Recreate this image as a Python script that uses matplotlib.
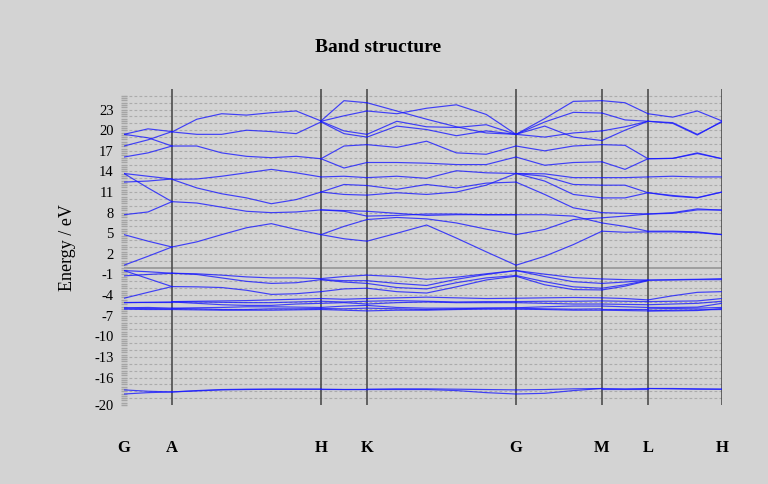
import numpy as np
import matplotlib.pyplot as plt

plt.rcParams['font.family'] = ['Liberation Serif', 'DejaVu Serif']

# high-symmetry points along the path (distances)
labels = ['G', 'A', 'H', 'K', 'G', 'M', 'L', 'H']
kdist = [0, 48, 197, 243, 392, 478, 524, 598]

ytick_vals = [-20, -16, -13, -10, -7, -4, -1, 2, 5, 8, 11, 14, 17, 20, 23]

# energies (eV) of each band, sampled evenly inside each segment
GA = [
    [0.35, 1.65, 3.0], [4.8, 3.85, 3.0], [7.7, 8.1, 9.6], [13.7, 11.6, 9.6],
    [12.45, 12.6, 12.9], [13.7, 13.3, 12.9], [16.1, 16.7, 17.7],
    [17.7, 18.6, 19.8], [19.4, 18.9, 17.7], [19.4, 20.2, 19.8],
    [-0.43, -0.6, -0.82], [-0.43, -1.6, -2.76], [-1.2, -1.0, -0.82],
    [-4.46, -3.6, -2.76], [-4.95, -4.95, -4.95], [-5.1, -5.05, -5.0],
    [-5.85, -5.8, -5.9], [-5.9, -5.95, -6.0], [-6.05, -6.1, -6.1],
    [-17.8, -18.0, -18.1], [-18.4, -18.2, -18.1],
]
AH = [
    [3.0, 3.75, 4.8, 5.8, 6.4, 5.55, 4.8],
    [9.6, 9.4, 8.8, 8.2, 8.0, 8.1, 8.4],
    [12.85, 11.6, 10.75, 10.15, 9.3, 9.9, 11.0],
    [12.85, 12.9, 13.3, 13.8, 14.3, 13.8, 13.2],
    [17.7, 17.7, 16.7, 16.2, 16.0, 16.2, 15.85],
    [19.75, 19.4, 19.4, 20.0, 19.8, 19.5, 21.2],
    [19.75, 21.6, 22.4, 22.2, 22.55, 22.8, 21.35],
    [-0.82, -0.9, -1.1, -1.35, -1.5, -1.5, -1.6],
    [-0.82, -1.0, -1.5, -2.0, -2.3, -2.2, -1.75],
    [-2.76, -2.8, -2.9, -3.3, -3.9, -3.8, -3.5],
    [-4.95, -4.9, -4.85, -4.8, -4.7, -4.6, -4.5],
    [-5.0, -5.0, -5.05, -5.1, -5.1, -5.0, -4.9],
    [-5.0, -5.2, -5.4, -5.5, -5.5, -5.3, -5.2],
    [-5.9, -5.85, -5.8, -5.7, -5.7, -5.75, -5.8],
    [-5.95, -6.0, -6.1, -6.1, -6.0, -6.0, -5.95],
    [-6.1, -6.15, -6.2, -6.2, -6.2, -6.15, -6.1],
    [-18.1, -17.9, -17.75, -17.7, -17.7, -17.7, -17.7],
    [-18.1, -17.95, -17.8, -17.75, -17.7, -17.7, -17.7],
]
HK = [
    [4.8, 4.2, 3.85], [4.8, 6.0, 7.0], [8.4, 8.2, 7.5], [8.4, 8.3, 8.2],
    [11.0, 10.65, 10.55], [11.0, 12.1, 11.95], [13.2, 13.3, 13.1],
    [15.85, 14.5, 15.3], [15.85, 17.7, 17.9], [21.3, 19.9, 19.4],
    [21.2, 19.5, 19.0], [21.3, 22.1, 22.8], [21.35, 24.3, 24.0],
    [-1.6, -1.3, -1.1], [-1.75, -1.9, -1.9], [-1.75, -2.1, -2.3],
    [-3.5, -3.1, -3.0], [-4.5, -4.6, -4.5], [-4.9, -5.0, -4.9],
    [-5.2, -5.1, -5.3], [-5.8, -5.6, -5.5], [-5.95, -6.0, -5.9],
    [-6.1, -6.2, -6.3],
    [-17.7, -17.7, -17.7], [-17.7, -17.75, -17.75],
]
KG = [
    [3.85, 5.0, 6.2, 4.3, 2.3, 0.35],
    [7.0, 7.3, 7.1, 6.5, 5.6, 4.8],
    [7.5, 7.6, 7.8, 7.8, 7.7, 7.7],
    [8.2, 7.9, 7.6, 7.7, 7.7, 7.7],
    [10.55, 10.9, 10.65, 11.0, 12.0, 13.7],
    [11.95, 11.4, 12.1, 11.6, 12.3, 12.45],
    [13.1, 13.3, 13.0, 14.1, 13.8, 13.7],
    [15.3, 15.3, 15.2, 15.0, 15.0, 16.1],
    [17.9, 17.5, 18.4, 16.7, 16.5, 17.7],
    [19.0, 20.6, 20.1, 19.2, 19.9, 19.4],
    [19.4, 21.3, 20.5, 20.4, 20.8, 19.4],
    [22.8, 22.4, 23.2, 23.7, 22.3, 19.4],
    [24.0, 22.8, 21.6, 20.5, 19.6, 19.4],
    [-1.1, -1.3, -1.7, -1.4, -0.9, -0.43],
    [-1.9, -2.3, -2.6, -1.7, -1.0, -0.43],
    [-2.3, -2.9, -3.1, -2.2, -1.5, -1.15],
    [-3.0, -3.5, -3.7, -2.8, -1.8, -1.25],
    [-4.5, -4.4, -4.3, -4.4, -4.5, -4.46],
    [-4.9, -4.8, -4.9, -5.0, -4.95, -4.95],
    [-5.3, -5.1, -5.0, -5.1, -5.1, -5.1],
    [-5.5, -5.8, -5.9, -5.9, -5.9, -5.85],
    [-5.9, -6.0, -6.1, -6.0, -5.9, -5.9],
    [-6.3, -6.2, -6.2, -6.1, -6.05, -6.05],
    [-17.7, -17.65, -17.65, -17.7, -17.75, -17.8],
    [-17.75, -17.75, -17.75, -17.9, -18.2, -18.4],
]
GM = [
    [0.35, 1.65, 3.35, 5.3], [4.8, 5.55, 7.0, 7.25], [7.7, 7.7, 7.5, 6.5],
    [12.45, 10.65, 8.7, 8.0], [13.7, 12.6, 10.65, 10.15],
    [13.7, 13.3, 12.1, 12.0], [13.7, 13.65, 13.1, 13.1],
    [16.1, 14.9, 15.3, 15.4], [17.7, 17.0, 17.7, 17.9],
    [19.4, 20.6, 19.0, 18.5], [19.4, 19.0, 19.6, 19.9],
    [19.4, 21.2, 22.6, 22.5], [19.4, 21.7, 24.2, 24.3],
    [-0.43, -0.95, -1.45, -1.65], [-0.43, -1.3, -2.05, -2.3],
    [-1.15, -2.05, -2.8, -3.0], [-1.25, -2.5, -3.2, -3.25],
    [-4.46, -4.4, -4.35, -4.4], [-4.95, -4.9, -4.9, -4.85],
    [-5.1, -5.2, -5.3, -5.3], [-5.85, -5.7, -5.6, -5.6],
    [-5.9, -6.0, -6.05, -6.0], [-6.05, -6.1, -6.2, -6.2],
    [-17.8, -17.75, -17.65, -17.6], [-18.4, -18.3, -17.9, -17.6],
]
ML = [
    [5.3, 5.15, 5.2], [7.25, 7.5, 7.8], [6.5, 6.0, 5.3], [8.0, 7.9, 7.8],
    [10.15, 10.15, 10.9], [12.0, 12.0, 10.9], [13.1, 13.1, 13.2],
    [15.4, 14.3, 15.85], [17.9, 17.8, 15.85], [18.5, 20.0, 21.3],
    [19.9, 20.5, 21.3], [22.5, 21.5, 21.3], [24.3, 24.0, 22.4],
    [-1.65, -1.75, -1.8], [-2.3, -2.1, -1.85], [-3.0, -2.5, -1.85],
    [-3.25, -2.7, -1.9], [-4.4, -4.5, -4.7], [-4.85, -4.9, -4.95],
    [-5.3, -5.35, -5.4], [-5.6, -5.7, -5.8], [-6.0, -6.0, -6.0],
    [-6.2, -6.25, -6.3],
    [-17.6, -17.6, -17.6], [-17.6, -17.65, -17.6],
]
LH = [
    [5.2, 5.2, 5.1, 4.8], [5.3, 5.3, 5.2, 4.8], [7.8, 8.0, 8.55, 8.35],
    [7.8, 7.9, 8.4, 8.4], [10.9, 10.4, 10.15, 11.0], [10.9, 10.5, 10.2, 11.0],
    [13.2, 13.3, 13.2, 13.2], [15.85, 15.9, 16.7, 15.85],
    [15.85, 15.9, 16.6, 15.85], [21.3, 21.0, 19.3, 21.3],
    [21.3, 21.1, 19.4, 21.2], [22.4, 21.9, 22.8, 21.35],
    [-1.8, -1.75, -1.7, -1.6], [-1.85, -1.8, -1.75, -1.75],
    [-4.7, -4.1, -3.6, -3.5], [-4.95, -4.9, -4.85, -4.5],
    [-5.4, -5.3, -5.2, -4.9], [-5.8, -5.8, -5.75, -5.2],
    [-6.0, -5.95, -5.9, -5.8], [-6.3, -6.3, -6.25, -5.95],
    [-6.3, -6.2, -6.15, -6.1],
    [-17.6, -17.6, -17.65, -17.7], [-17.6, -17.65, -17.7, -17.7],
]
segments = [GA, AH, HK, KG, GM, ML, LH]

bg = '#d3d3d3'
fig = plt.figure(figsize=(7.68, 4.84), dpi=100, facecolor=bg)
ax = fig.add_axes([124 / 768, 79 / 484, 598 / 768, 316 / 484])
ax.set_facecolor(bg)

# dashed grid every 1 eV, solid line at the Fermi level
for e in range(-19, 26):
    if e == 0:
        ax.axhline(e, color='#9a9a9a', lw=1.3, zorder=1)
    else:
        ax.axhline(e, color='#ababab', lw=0.8, ls=(0, (2.5, 2)), zorder=1)

for k in kdist[1:]:
    ax.axvline(k, color='#4d4d4d', lw=1.2, zorder=2)

for i, seg in enumerate(segments):
    for band in seg:
        xs = np.linspace(kdist[i], kdist[i + 1], len(band))
        ax.plot(xs, band, color='#1a1aff', lw=0.85, alpha=0.8, zorder=3)

ax.set_xlim(kdist[0], kdist[-1])
ax.set_ylim(-20, 26)
for s in ax.spines.values():
    s.set_visible(False)

ax.set_xticks([])
ax.set_yticks(ytick_vals)
ax.set_yticklabels([str(v) for v in ytick_vals], fontsize=10.5)
ax.set_yticks(np.arange(-20, 25.01, 1 / 3), minor=True)
ax.tick_params(axis='y', which='both', direction='inout', length=5,
               color='#a5a5a5', width=1, pad=5)

for k, lab in zip(kdist, labels):
    ax.text(k, -0.136, lab, transform=ax.get_xaxis_transform(), ha='center',
            va='center', fontsize=12, fontweight='bold')

fig.text(378 / 768, 1 - 48 / 484, 'Band structure', ha='center', va='center',
         fontsize=14, fontweight='bold')
fig.text(68 / 768, 1 - 248 / 484, 'Energy / eV', ha='center', va='center',
         fontsize=13, rotation=90)

fig.savefig('out.png', dpi=100, facecolor=bg)
